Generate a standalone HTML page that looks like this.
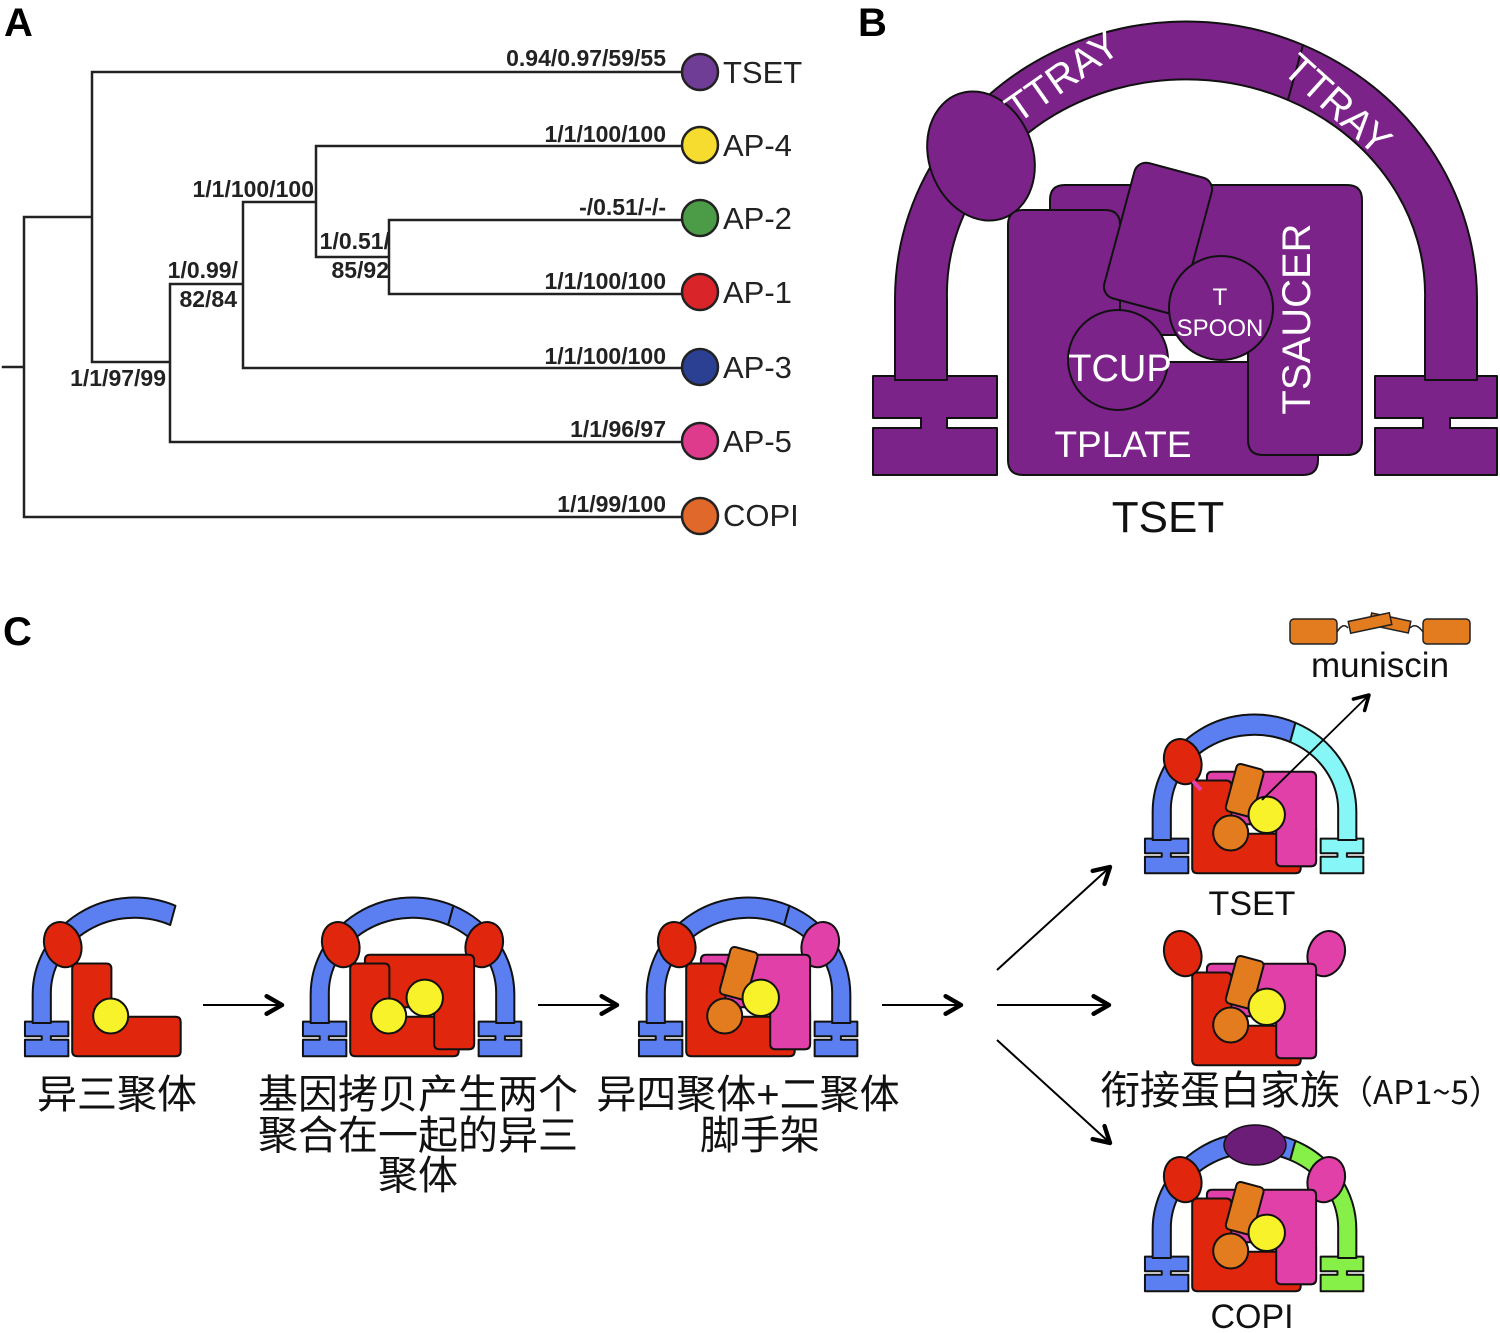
<!DOCTYPE html>
<html><head><meta charset="utf-8"><style>
html,body{margin:0;padding:0;background:#fff;}
svg{display:block;}
.s{stroke:#111;stroke-width:2;vector-effect:non-scaling-stroke;stroke-linejoin:round;}
</style></head><body>
<svg width="1500" height="1333" viewBox="0 0 1500 1333" xmlns="http://www.w3.org/2000/svg" font-family="'Liberation Sans', Arial, sans-serif">
<defs>
<g id="archL"><path class="s" style="fill:var(--aL)" d="M873,376 H997 V418 H947 V428 H997 V475 H873 V428 H921 V418 H873 Z"/><path class="s" style="fill:var(--aL)" d="M895,380 V300 A291,278 0 0 1 1303,45 L1288,100 A239,215 0 0 0 947,300 V380 Z"/></g>
<g id="archR"><path class="s" style="fill:var(--aR)" d="M1375,376 H1497 V418 H1450 V428 H1497 V475 H1375 V428 H1423 V418 H1375 Z"/><path class="s" style="fill:var(--aR)" d="M1303,45 A291,278 0 0 1 1477,300 V380 H1425 V300 A239,215 0 0 0 1288,100 Z"/></g>
<ellipse id="elL" class="s" style="fill:var(--eL)" cx="981" cy="156" rx="52" ry="66" transform="rotate(-20 981 156)"/>
<ellipse id="elR" class="s" style="fill:var(--eR)" cx="1391" cy="156" rx="52" ry="66" transform="rotate(20 1391 156)"/>
<path id="saucer" class="s" style="fill:var(--sa)" d="M1050,200 Q1050,185 1065,185 H1347 Q1362,185 1362,200 V440 Q1362,455 1347,455 H1263 Q1248,455 1248,440 V335 H1050 Z"/>
<path id="plate" class="s" style="fill:var(--pl)" d="M1008,225 Q1008,210 1023,210 H1105 Q1120,210 1120,225 V362 H1303 Q1318,362 1318,377 V460 Q1318,475 1303,475 H1023 Q1008,475 1008,460 Z"/>
<path id="leg" class="s" style="fill:var(--sa)" d="M1248,345 V440 Q1248,455 1263,455 H1347 Q1362,455 1362,440 V345"/>
<rect id="arm" class="s" style="fill:var(--ar)" x="1118" y="168" width="80" height="140" rx="12" transform="rotate(15 1158 238)"/>
<circle id="cup" class="s" style="fill:var(--cu)" cx="1118" cy="360" r="50"/>
<circle id="spoon" class="s" style="fill:var(--sp)" cx="1221" cy="308" r="52"/>
<marker id="ah" viewBox="0 0 20 20" refX="17" refY="10" markerWidth="22" markerHeight="22" orient="auto" markerUnits="userSpaceOnUse"><path d="M3,2 L17,10 L3,18" fill="none" stroke="#000" stroke-width="4" stroke-linejoin="round" stroke-linecap="round"/></marker>
<marker id="ah2" viewBox="0 0 20 20" refX="17" refY="10" markerWidth="20" markerHeight="20" orient="auto" markerUnits="userSpaceOnUse"><path d="M3,2 L17,10 L3,18" fill="none" stroke="#000" stroke-width="3.5" stroke-linejoin="round" stroke-linecap="round"/></marker>
</defs>

<g font-weight="bold" font-size="40"><text x="4" y="36">A</text><text x="858" y="36">B</text><text x="3" y="645">C</text></g>

<g stroke="#222" stroke-width="2.5" fill="none" stroke-linecap="square">
<path d="M3,367 H24 M24,217 V517 M24,217 H92 M92,72 V362 M92,72 H700 M92,362 H170 M170,284 V442 M170,442 H700 M170,284 H243 M243,202 V368 M243,368 H700 M243,202 H316 M316,146 V257 M316,146 H700 M316,257 H389 M389,220 V294 M389,220 H700 M389,294 H700 M24,517 H700"/>
</g>
<g stroke="#222" stroke-width="2.5">
<circle cx="700" cy="72" r="18" fill="#6f3c96"/>
<circle cx="700" cy="145" r="18" fill="#f5dc2f"/>
<circle cx="700" cy="218" r="18" fill="#4c9b46"/>
<circle cx="700" cy="292" r="18" fill="#d9252a"/>
<circle cx="700" cy="367" r="18" fill="#2b3f93"/>
<circle cx="700" cy="441" r="18" fill="#de3b8c"/>
<circle cx="700" cy="516" r="18" fill="#e0682b"/>
</g>
<g font-size="31" fill="#222">
<text x="723" y="83">TSET</text><text x="723" y="156">AP-4</text><text x="723" y="229">AP-2</text><text x="723" y="303">AP-1</text><text x="723" y="378">AP-3</text><text x="723" y="452">AP-5</text><text x="723" y="526">COPI</text>
</g>
<g font-size="23" font-weight="bold" fill="#222" text-anchor="end">
<text x="666" y="66">0.94/0.97/59/55</text>
<text x="666" y="142">1/1/100/100</text>
<text x="666" y="215">-/0.51/-/-</text>
<text x="666" y="289">1/1/100/100</text>
<text x="666" y="364">1/1/100/100</text>
<text x="666" y="437">1/1/96/97</text>
<text x="666" y="512">1/1/99/100</text>
<text x="314" y="197">1/1/100/100</text>
<text x="390" y="249">1/0.51/</text>
<text x="389" y="278">85/92</text>
<text x="238" y="278">1/0.99/</text>
<text x="237" y="307">82/84</text>
<text x="166" y="386">1/1/97/99</text>
</g>

<g style="--aL:#7b2389;--aR:#7b2389;--eL:#7b2389;--pl:#7b2389;--sa:#7b2389;--ar:#7b2389;--cu:#7b2389;--sp:#7b2389">
<use href="#archL"/><use href="#archR"/><use href="#elL"/><use href="#saucer"/><use href="#plate"/><use href="#leg"/><use href="#arm"/><use href="#cup"/><use href="#spoon"/>
</g>
<g fill="#fff">
<text x="1062" y="90" font-size="40" text-anchor="middle" transform="rotate(-35 1062 76)">TTRAY</text>
<text x="1338" y="118" font-size="40" text-anchor="middle" transform="rotate(42 1338 104)">TTRAY</text>
<text x="1120" y="381" font-size="38" text-anchor="middle">TCUP</text>
<text x="1220" y="305" font-size="24" text-anchor="middle">T</text>
<text x="1220" y="336" font-size="24" text-anchor="middle">SPOON</text>
<text x="1324" y="333" font-size="40" text-anchor="middle" transform="rotate(-90 1310 333)">TSAUCER</text>
<text x="1123" y="457" font-size="37" text-anchor="middle">TPLATE</text>
</g>
<text x="1168" y="532" font-size="44" text-anchor="middle" fill="#111">TSET</text>

<g transform="translate(-280.6,890) scale(0.35)" style="--aL:#5b7ff0;--eL:#e0260c;--pl:#e0260c;--cu:#f7f22a">
<use href="#archL"/><use href="#elL"/><use href="#plate"/><use href="#cup"/>
</g>
<g transform="translate(-2.6,890) scale(0.35)" style="--aL:#5b7ff0;--aR:#5b7ff0;--eL:#e0260c;--eR:#e0260c;--pl:#e0260c;--sa:#e0260c;--cu:#f7f22a;--sp:#f7f22a">
<use href="#archL"/><use href="#archR"/><use href="#elL"/><use href="#elR"/><use href="#saucer"/><use href="#plate"/><use href="#leg"/><use href="#cup"/><use href="#spoon"/>
</g>
<g transform="translate(333.4,890) scale(0.35)" style="--aL:#5b7ff0;--aR:#5b7ff0;--eL:#e0260c;--eR:#e040a8;--pl:#e0260c;--sa:#e040a8;--ar:#e37b1f;--cu:#e37b1f;--sp:#f7f22a">
<use href="#archL"/><use href="#archR"/><use href="#elL"/><use href="#elR"/><use href="#saucer"/><use href="#plate"/><use href="#leg"/><use href="#arm"/><use href="#cup"/><use href="#spoon"/>
</g>
<g transform="translate(839.4,707) scale(0.35)" style="--aL:#5b7ff0;--aR:#86f6f6;--eL:#e0260c;--pl:#e0260c;--sa:#e040a8;--ar:#e37b1f;--cu:#e37b1f;--sp:#f7f22a">
<use href="#archL"/><use href="#archR"/><use href="#saucer"/><use href="#plate"/><use href="#leg"/><use href="#arm"/><use href="#cup"/><use href="#spoon"/><use href="#elL"/>
</g>
<line x1="1193" y1="781" x2="1201" y2="790" stroke="#e040a8" stroke-width="4"/>
<g transform="translate(839.4,899) scale(0.35)" style="--eL:#e0260c;--eR:#e040a8;--pl:#e0260c;--sa:#e040a8;--ar:#e37b1f;--cu:#e37b1f;--sp:#f7f22a">
<use href="#elL"/><use href="#elR"/><use href="#saucer"/><use href="#plate"/><use href="#leg"/><use href="#arm"/><use href="#cup"/><use href="#spoon"/>
</g>
<g transform="translate(839.4,1125) scale(0.35)" style="--aL:#5b7ff0;--aR:#86f048;--eL:#e0260c;--eR:#e040a8;--pl:#e0260c;--sa:#e040a8;--ar:#e37b1f;--cu:#e37b1f;--sp:#f7f22a">
<use href="#archL"/><use href="#archR"/><use href="#elL"/><use href="#elR"/><use href="#saucer"/><use href="#plate"/><use href="#leg"/><use href="#arm"/><use href="#cup"/><use href="#spoon"/>
</g>
<ellipse cx="1255" cy="1145" rx="31" ry="20" fill="#6b1d78" stroke="#111" stroke-width="1.5"/>

<g stroke="#000" stroke-width="2" fill="none" marker-end="url(#ah)">
<line x1="203" y1="1005" x2="282" y2="1005"/>
<line x1="538" y1="1005" x2="617" y2="1005"/>
<line x1="882" y1="1005" x2="961" y2="1005"/>
<line x1="997" y1="970" x2="1110" y2="867"/>
<line x1="997" y1="1005" x2="1109" y2="1005"/>
<line x1="997" y1="1040" x2="1110" y2="1143"/>
</g>
<line x1="1262" y1="800" x2="1369" y2="695" stroke="#000" stroke-width="1.8" marker-end="url(#ah2)"/>

<g stroke="#222" stroke-width="1.5" fill="#e37b1f">
<path d="M1337,632 Q1343,622 1348,628 M1410,628 Q1416,622 1423,632" fill="none"/>
<rect x="1290" y="619" width="47" height="25" rx="4"/>
<rect x="1423" y="619" width="47" height="25" rx="4"/>
<rect x="1370" y="617" width="40" height="12" transform="rotate(12 1390 623)"/>
<rect x="1349" y="617" width="42" height="12" transform="rotate(-12 1370 623)"/>
</g>
<text x="1380" y="677" font-size="35" text-anchor="middle" fill="#111">muniscin</text>

<g font-size="40" fill="#111" font-family="'Liberation Sans','Noto Sans CJK SC',sans-serif" text-anchor="middle">
<text x="117" y="1108">异三聚体</text>
<text x="418" y="1108">基因拷贝产生两个</text>
<text x="418" y="1149">聚合在一起的异三</text>
<text x="418" y="1189">聚体</text>
<text x="748" y="1108">异四聚体+二聚体</text>
<text x="760" y="1149">脚手架</text>
<text x="1100" y="1104" text-anchor="start">衔接蛋白家族<tspan font-size="33" font-family="'Noto Sans CJK SC',sans-serif">（AP1~5）</tspan></text>
</g>
<g font-size="34" fill="#111" text-anchor="middle">
<text x="1252" y="915">TSET</text>
<text x="1252" y="1328">COPI</text>
</g>
</svg>
</body></html>
